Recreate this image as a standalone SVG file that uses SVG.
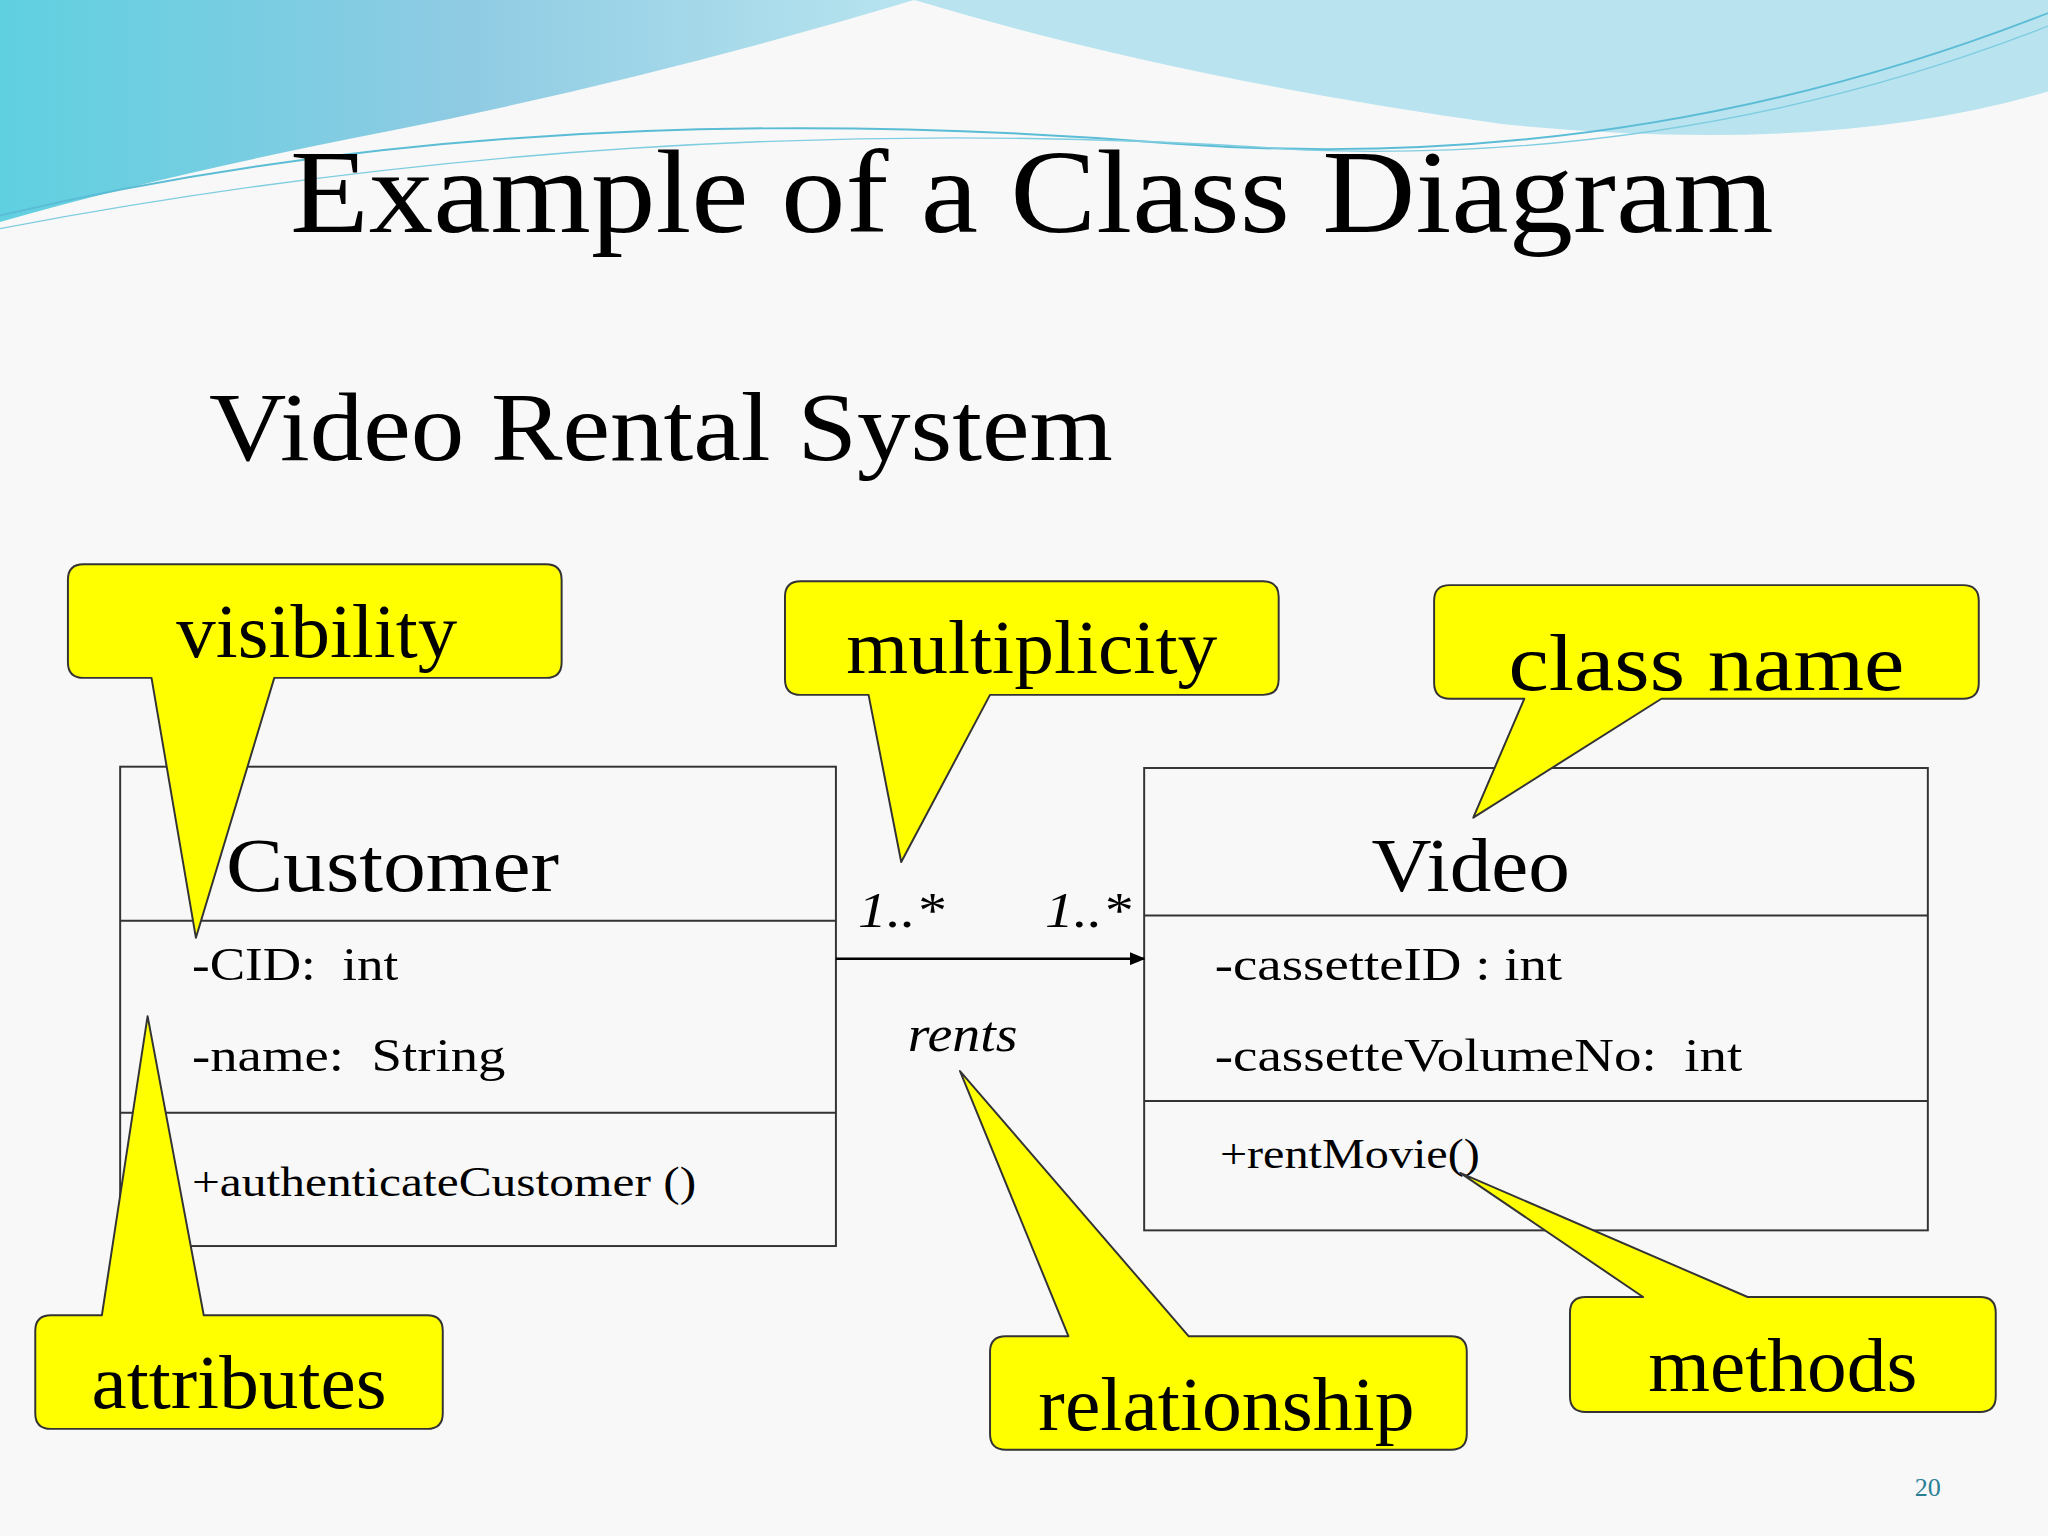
<svg xmlns="http://www.w3.org/2000/svg" width="2048" height="1536" viewBox="0 0 2048 1536">
<defs>
<linearGradient id="wave" x1="0" y1="0" x2="1" y2="0">
<stop offset="0" stop-color="#5fd0e0"/><stop offset="0.5" stop-color="#8ecbe3"/><stop offset="1" stop-color="#b8e4ef"/>
</linearGradient>
<marker id="arr" markerWidth="12" markerHeight="10" refX="11" refY="5" orient="auto" markerUnits="userSpaceOnUse">
<path d="M0,0 L12,5 L0,10 Z" fill="#000"/>
</marker>
<style>
.t{font-family:"Liberation Serif",serif;fill:#000;white-space:pre}
.box{fill:none;stroke:#333;stroke-width:1.5}
.co{fill:#ffff00;stroke:#333;stroke-width:1.5;stroke-linejoin:round}
</style>
</defs>
<rect width="2048" height="1536" fill="#f8f8f8"/>
<g transform="scale(1.30612)">
<g id="background">
<path d="M0,0 H1568 V70 Q1400,120 1150,95 Q900,60 700,0 Z" fill="#b9e4ef"/>
<path d="M0,0 H700 Q500,60 300,100 Q120,135 0,170 Z" fill="url(#wave)"/>
<path d="M0,165 Q400,70 900,110 Q1250,135 1568,10" fill="none" stroke="#5bbcd6" stroke-width="1.5"/>
<path d="M0,175 Q500,80 1000,115 Q1300,125 1568,20" fill="none" stroke="#7fcde0" stroke-width="1"/>
</g>
<text class="t" x="222" y="178" font-size="90" textLength="1136" lengthAdjust="spacingAndGlyphs">Example of a Class Diagram</text>
<text class="t" x="160" y="352" font-size="74" textLength="692" lengthAdjust="spacingAndGlyphs">Video Rental System</text>
<g id="customer">
<rect class="box" x="92" y="587" width="548" height="367"/>
<line class="box" x1="92" y1="705" x2="640" y2="705"/>
<line class="box" x1="92" y1="852" x2="640" y2="852"/>
<text class="t" x="173" y="682" font-size="58" textLength="255" lengthAdjust="spacingAndGlyphs">Customer</text>
<text class="t" x="147" y="750" font-size="36" textLength="158" lengthAdjust="spacingAndGlyphs">-CID:  int</text>
<text class="t" x="147" y="820" font-size="36" textLength="240" lengthAdjust="spacingAndGlyphs">-name:  String</text>
<text class="t" x="147" y="916" font-size="32" textLength="386" lengthAdjust="spacingAndGlyphs">+authenticateCustomer ()</text>
</g>
<g id="video">
<rect class="box" x="876" y="588" width="600" height="354"/>
<line class="box" x1="876" y1="701" x2="1476" y2="701"/>
<line class="box" x1="876" y1="843" x2="1476" y2="843"/>
<text class="t" x="1050" y="682" font-size="58" textLength="152" lengthAdjust="spacingAndGlyphs">Video</text>
<text class="t" x="930" y="750" font-size="36" textLength="266" lengthAdjust="spacingAndGlyphs">-cassetteID : int</text>
<text class="t" x="930" y="820" font-size="36" textLength="404" lengthAdjust="spacingAndGlyphs">-cassetteVolumeNo:  int</text>
<text class="t" x="934" y="894" font-size="32" textLength="199" lengthAdjust="spacingAndGlyphs">+rentMovie()</text>
</g>
<g id="connectors">
<line x1="640" y1="734" x2="876" y2="734" stroke="#000" stroke-width="2" marker-end="url(#arr)"/>
<text class="t" x="657" y="710" font-size="38" font-style="italic" textLength="66" lengthAdjust="spacingAndGlyphs">1..*</text>
<text class="t" x="800" y="710" font-size="38" font-style="italic" textLength="66" lengthAdjust="spacingAndGlyphs">1..*</text>
<text class="t" x="695" y="805" font-size="38" font-style="italic" textLength="84" lengthAdjust="spacingAndGlyphs">rents</text>
</g>
<g id="callout-visibility">
<path class="co" d="M64,432 H418 Q430,432 430,444 V507 Q430,519 418,519 H210 L150,718 L116,519 H64 Q52,519 52,507 V444 Q52,432 64,432 Z"/>
<text class="t" x="135" y="503" font-size="58" textLength="215" lengthAdjust="spacingAndGlyphs">visibility</text>
</g>
<g id="callout-multiplicity">
<path class="co" d="M613,445 H967 Q979,445 979,457 V520 Q979,532 967,532 H758 L690,660 L665,532 H613 Q601,532 601,520 V457 Q601,445 613,445 Z"/>
<text class="t" x="648" y="515" font-size="58" textLength="284" lengthAdjust="spacingAndGlyphs">multiplicity</text>
</g>
<g id="callout-classname">
<path class="co" d="M1110,448 H1503 Q1515,448 1515,460 V523 Q1515,535 1503,535 H1272 L1128,626 L1167,535 H1110 Q1098,535 1098,523 V460 Q1098,448 1110,448 Z"/>
<text class="t" x="1155" y="528" font-size="62" textLength="303" lengthAdjust="spacingAndGlyphs">class name</text>
</g>
<g id="callout-attributes">
<path class="co" d="M39,1007 H78 L113,778 L156,1007 H327 Q339,1007 339,1019 V1082 Q339,1094 327,1094 H39 Q27,1094 27,1082 V1019 Q27,1007 39,1007 Z"/>
<text class="t" x="70" y="1078" font-size="58" textLength="226" lengthAdjust="spacingAndGlyphs">attributes</text>
</g>
<g id="callout-relationship">
<path class="co" d="M770,1023 H818 L735,820 L910,1023 H1111 Q1123,1023 1123,1035 V1098 Q1123,1110 1111,1110 H770 Q758,1110 758,1098 V1035 Q758,1023 770,1023 Z"/>
<text class="t" x="795" y="1095" font-size="58" textLength="288" lengthAdjust="spacingAndGlyphs">relationship</text>
</g>
<g id="callout-methods">
<path class="co" d="M1214,993 H1258 L1118,898 L1338,993 H1516 Q1528,993 1528,1005 V1069 Q1528,1081 1516,1081 H1214 Q1202,1081 1202,1069 V1005 Q1202,993 1214,993 Z"/>
<text class="t" x="1262" y="1065" font-size="58" textLength="206" lengthAdjust="spacingAndGlyphs">methods</text>
</g>
<text class="t" x="1476" y="1145" font-size="20" text-anchor="middle" style="fill:#2a7f95">20</text>
</g>
</svg>
